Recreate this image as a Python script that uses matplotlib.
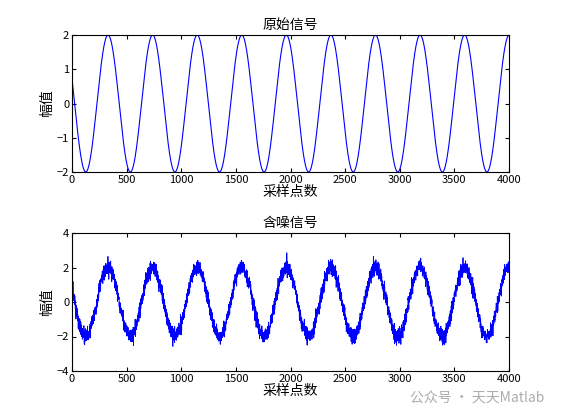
import numpy as np
import matplotlib.pyplot as plt

plt.rcParams['font.family'] = ['Noto Sans CJK SC', 'DejaVu Sans']

# signal parameters
n_samples = 4000
amplitude = 2.0
period = 408          # samples per cycle (peaks near 330, 738, ... 4000)
first_peak = 330
noise_std = 0.22

n = np.arange(n_samples)
clean = amplitude * np.cos(2 * np.pi * (n - first_peak) / period)
rng = np.random.default_rng(3)
noisy = clean + noise_std * rng.standard_normal(n_samples)

fig = plt.figure(figsize=(5.61, 4.2), dpi=100)
ax1 = fig.add_axes([72 / 561, 1 - 172 / 420, 437 / 561, 137 / 420])
ax2 = fig.add_axes([72 / 561, 1 - 371 / 420, 437 / 561, 138 / 420])

ax1.plot(n, clean, color='blue', lw=0.8)
ax1.set_xlim(0, 4000)
ax1.set_ylim(-2, 2)
ax1.set_yticks([-2, -1, 0, 1, 2])
ax1.set_title('原始信号', fontsize=10, pad=4)
ax1.set_xlabel('采样点数', fontsize=10, labelpad=0)
ax1.set_ylabel('幅值', fontsize=10, labelpad=2)

ax2.plot(n, noisy, color='blue', lw=0.6)
ax2.set_xlim(0, 4000)
ax2.set_ylim(-4, 4)
ax2.set_yticks([-4, -2, 0, 2, 4])
ax2.set_title('含噪信号', fontsize=10, pad=4)
ax2.set_xlabel('采样点数', fontsize=10, labelpad=0)
ax2.set_ylabel('幅值', fontsize=10, labelpad=2)

for ax in (ax1, ax2):
    ax.set_xticks(range(0, 4001, 500))
    ax.tick_params(direction='in', labelsize=8, top=True, right=True, length=3, pad=2)

fig.text(0.97, 0.035, '公众号 · 天天Matlab', ha='right', va='bottom',
         fontsize=10, color='#999999', alpha=0.8)

fig.savefig('out.png', dpi=100)
